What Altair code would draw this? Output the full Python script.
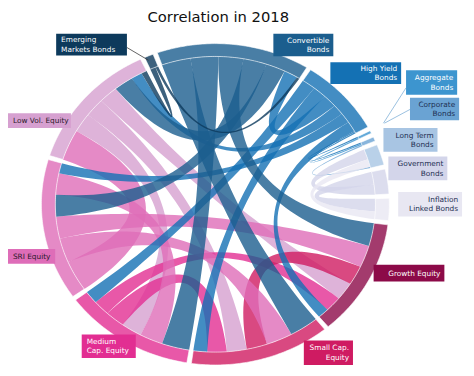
import math
import altair as alt

# ---------------- data ----------------
TITLE = "Correlation in 2018"
names = ["Emerging\nMarkets Bonds", "Convertible\nBonds", "High Yield\nBonds", "Aggregate\nBonds",
         "Corporate\nBonds", "Long Term\nBonds", "Government\nBonds", "Inflation\nLinked Bonds",
         "Growth Equity", "Small Cap.\nEquity", "Medium\nCap. Equity", "SRI Equity", "Low Vol. Equity"]
colors = ["#0d3a5c", "#1b5e8e", "#1471b4", "#3d95cf", "#6aa3d3", "#a8c5e3", "#d3d5ea", "#e8e7f2",
          "#8c0a48", "#cf1b62", "#e22e92", "#de6db8", "#d6a0d0"]
text_colors = ["white", "white", "white", "white", "#1d2f52", "#1d2f52", "#1d2f52", "#1d2f52",
               "white", "white", "white", "#2a1a2a", "#2a1a2a"]

# chord links: source index, target index, strength (ribbon coloured by source)
link_src = [12, 12, 12, 10, 10, 9, 11, 11, 11, 11,
            2, 2, 2, 2, 2, 2, 2, 2, 3, 4, 6, 6, 7,
            1, 1, 1, 1, 1, 0, 0]
link_dst = [8, 9, 10, 8, 9, 8, 12, 8, 9, 10,
            12, 11, 10, 9, 8, 1, 3, 4, 4, 5, 5, 7, 5,
            12, 11, 10, 9, 8, 1, 12]
link_val = [7, 7.2, 7.5, 6, 7, 7.5, 12, 8.6, 9.5, 8.4,
            4, 4, 5, 5, 4, 5, 0.5, 0.5, 0.5, 0.5, 4, 5, 3,
            7, 8.5, 10, 10.5, 9, 1, 2]

# label boxes (screen px): x0, y0, x1, y1, alignment
label_boxes = [(57, 31, 129, 53, "left"), (278, 31, 339, 54, "right"), (336, 60, 408, 82, "right"),
               (413, 68, 465, 93, "right"), (417, 96, 467, 119, "right"), (390, 127, 445, 151, "right"),
               (395, 156, 455, 180, "right"), (405, 192, 470, 217, "right"), (380, 266, 452, 283, "right"),
               (309, 343, 359, 368, "right"), (83, 337, 138, 361, "left"), (8, 250, 56, 265, "left"),
               (8, 112, 72, 127, "left")]
leaders = [((129, 45), (151, 58), "#3a3a3a"), ((413, 86), (390, 122), "#7fb0d8"),
           ((417, 108), (391, 122), "#7fb0d8")]

# ---------------- layout ----------------
OX, OY = 8, 8
CX, CY, RX, RY = 219.0, 204.5, 177.0, 163.5
RIN = 0.92
GAP = 1.5
START = -24.0
LH = 9.5
n = len(names)

sizes = [0.0] * n
for s, d, v in zip(link_src, link_dst, link_val):
    sizes[s] += v
    sizes[d] += v
k = (360.0 - n * GAP) / sum(sizes)
g_start, g_end = [], []
a = START
for i in range(n):
    g_start.append(a)
    a += sizes[i] * k
    g_end.append(a)
    a += GAP


def pt(theta, r):
    t = math.radians(theta)
    return [CX + r * RX * math.sin(t) - OX, CY - r * RY * math.cos(t) - OY]


def arc_pts(a0, a1, r):
    m = max(2, int(abs(a1 - a0) / 0.8) + 2)
    return [pt(a0 + (a1 - a0) * j / (m - 1), r) for j in range(m)]


def bez(t0, t2, m=40):
    p0, p2 = pt(t0, RIN), pt(t2, RIN)
    diff = ((t2 - t0 + 180) % 360) - 180
    sep = abs(diff)
    rc = 0.3 * max(0.0, 1 - sep / 70.0)
    c = pt(t0 + diff / 2, rc)
    out = []
    for j in range(1, m):
        t = j / m
        out.append([(1 - t) ** 2 * p0[0] + 2 * (1 - t) * t * c[0] + t * t * p2[0],
                    (1 - t) ** 2 * p0[1] + 2 * (1 - t) * t * c[1] + t * t * p2[1]])
    return out


# sub-arc allocation: within a group, ribbons sorted by size (largest first, clockwise)
alloc = {}
for i in range(n):
    items = []
    for li, (s, d, v) in enumerate(zip(link_src, link_dst, link_val)):
        if s == i or d == i:
            items.append((-v, li, v))
    items.sort()
    pos = g_start[i]
    for _, li, v in items:
        alloc[(li, i)] = (pos, pos + v * k)
        pos += v * k

features = []
for li, (s, d, v) in enumerate(zip(link_src, link_dst, link_val)):
    a1, a2 = alloc[(li, s)]
    b1, b2 = alloc[(li, d)]
    ring = arc_pts(a1, a2, RIN)
    ring += bez(a2, b1)
    ring += arc_pts(b1, b2, RIN)
    ring += bez(b2, a1)
    ring.append(ring[0])
    features.append({"type": "Feature", "properties": {"fill": colors[s]},
                     "geometry": {"type": "Polygon", "coordinates": [ring]}})

bands = []
for i in range(n):
    ring = arc_pts(g_start[i], g_end[i], 1.0) + arc_pts(g_end[i], g_start[i], RIN)
    ring.append(ring[0])
    bands.append({"type": "Feature", "properties": {"fill": colors[i]},
                  "geometry": {"type": "Polygon", "coordinates": [ring]}})

boxes = []
for i, (x0, y0, x1, y1, al) in enumerate(label_boxes):
    ring = [[x0 - OX, y0 - OY], [x1 - OX, y0 - OY], [x1 - OX, y1 - OY], [x0 - OX, y1 - OY], [x0 - OX, y0 - OY]]
    boxes.append({"type": "Feature", "properties": {"fill": colors[i]},
                  "geometry": {"type": "Polygon", "coordinates": [ring]}})

lines = []
for (p0, p1, col) in leaders:
    lines.append({"type": "Feature", "properties": {"stroke": col},
                  "geometry": {"type": "LineString",
                               "coordinates": [[p0[0] - OX, p0[1] - OY], [p1[0] - OX, p1[1] - OY]]}})

left_txt, right_txt = [], []
for i, (x0, y0, x1, y1, al) in enumerate(label_boxes):
    nl = names[i].count("\n")
    row = {"label": names[i], "tc": text_colors[i],
           "lat": (y0 + y1) / 2 - OY + 0.5 - nl * LH / 2}
    if al == "left":
        row["lon"] = x0 + 5 - OX
        left_txt.append(row)
    else:
        row["lon"] = x1 - 4 - OX
        right_txt.append(row)

proj = dict(type="identity", scale=1, translate=[0, 0])

ribbon_layer = alt.Chart(alt.Data(values=features)).mark_geoshape(
    fillOpacity=0.8, strokeWidth=0).encode(
    fill=alt.Fill("properties.fill:N", scale=None)).project(**proj)
band_layer = alt.Chart(alt.Data(values=bands)).mark_geoshape(
    fillOpacity=0.8, stroke="white", strokeWidth=0.6).encode(
    fill=alt.Fill("properties.fill:N", scale=None)).project(**proj)
box_layer = alt.Chart(alt.Data(values=boxes)).mark_geoshape(strokeWidth=0).encode(
    fill=alt.Fill("properties.fill:N", scale=None)).project(**proj)
line_layer = alt.Chart(alt.Data(values=lines)).mark_geoshape(filled=False, strokeWidth=0.8).encode(
    stroke=alt.Stroke("properties.stroke:N", scale=None)).project(**proj)

txt_kw = dict(font="DejaVu Sans", fontSize=7.5, lineHeight=LH, baseline="middle", lineBreak="\n")
left_layer = alt.Chart(alt.Data(values=left_txt)).mark_text(align="left", **txt_kw).encode(
    longitude="lon:Q", latitude="lat:Q", text="label:N",
    color=alt.Color("tc:N", scale=None)).project(**proj)
right_layer = alt.Chart(alt.Data(values=right_txt)).mark_text(align="right", **txt_kw).encode(
    longitude="lon:Q", latitude="lat:Q", text="label:N",
    color=alt.Color("tc:N", scale=None)).project(**proj)
title_layer = alt.Chart(alt.Data(values=[{"t": TITLE, "lon": 222 - OX, "lat": 14 - OY}])).mark_text(
    align="center", baseline="middle", font="DejaVu Sans", fontSize=15, color="#111111").encode(
    longitude="lon:Q", latitude="lat:Q", text="t:N").project(**proj)

chart = alt.layer(ribbon_layer, band_layer, line_layer, box_layer, left_layer, right_layer, title_layer).properties(
    width=466, height=368, padding=0, autosize="none"
).configure_view(stroke=None)

chart.save("out.html", embed_options={"renderer": "svg", "actions": False})
